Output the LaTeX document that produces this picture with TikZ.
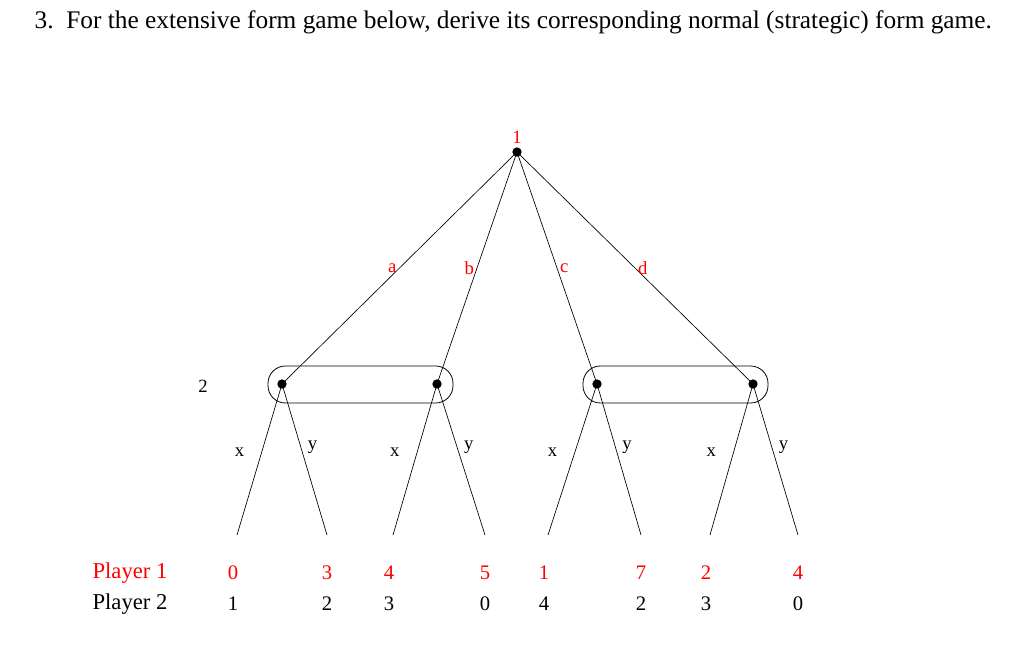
\documentclass[tikz,border=0pt]{standalone}
\usepackage{fontspec}
\setmainfont{Liberation Serif}
\begin{document}
\begin{tikzpicture}[x=0.75pt,y=-0.75pt,
  dot/.style={circle,fill=black,inner sep=0pt,minimum size=7pt},
  lbl/.style={font=\fontsize{14}{16}\selectfont,inner sep=1pt},
  red lbl/.style={lbl,text=red},
  pay/.style={font=\fontsize{15.5}{17}\selectfont,inner sep=0pt},
  edge/.style={line width=0.5pt},
  infoset/.style={draw,line width=0.6pt,rounded corners=13pt}]
\useasboundingbox (0,0) rectangle (1024,671);
\node[anchor=west,font=\fontsize{19}{21}\selectfont] (title) at (30,22) {3.\ \ For the extensive form game below, derive its corresponding normal (strategic) form game.};
\node[dot] (r) at (517,152) {};
\node[red lbl,above=5pt] at (r) {1};
\node[dot] (n1) at (282,384) {};
\node[dot] (n2) at (437,384) {};
\node[dot] (n3) at (597,384) {};
\node[dot] (n4) at (753,384) {};
\draw[infoset] (268,366) rectangle (453,403);
\draw[infoset] (583,366) rectangle (768,403);
\node[lbl] (p2) at (203,386) {2};
\draw[edge] (r.center) -- node[red lbl,pos=0.5,left=1pt] {a} (n1.center);
\draw[edge] (r.center) -- node[red lbl,pos=0.5,left=1pt] {b} (n2.center);
\draw[edge] (r.center) -- node[red lbl,pos=0.5,right=1pt] {c} (n3.center);
\draw[edge] (r.center) -- node[red lbl,pos=0.5,right=1pt] {d} (n4.center);
\foreach \n/\lx/\ly/\p/\q/\pp/\qq [count=\i] in {n1/237/327/0/1/3/2, n2/393/485/4/3/5/0, n3/548/641/1/4/7/2, n4/710/798/2/3/4/0}{
  \coordinate (lx\i) at (\lx,535);
  \coordinate (ly\i) at (\ly,535);
  \draw[edge] (\n.center) -- node[lbl,pos=0.45,left=12pt] {x} (lx\i);
  \draw[edge] (\n.center) -- node[lbl,pos=0.42,right=4pt] {y} (ly\i);
  \node[pay,text=red] at (\lx-4,573) {\p};
  \node[pay] at (\lx-4,604) {\q};
  \node[pay,text=red] at (\ly,573) {\pp};
  \node[pay] at (\ly,604) {\qq};
}
\node[pay,text=red,font=\fontsize{17}{19}\selectfont] (pl1) at (130,573) {Player 1};
\node[pay,font=\fontsize{17}{19}\selectfont] (pl2) at (130,604) {Player 2};
\end{tikzpicture}
\end{document}
